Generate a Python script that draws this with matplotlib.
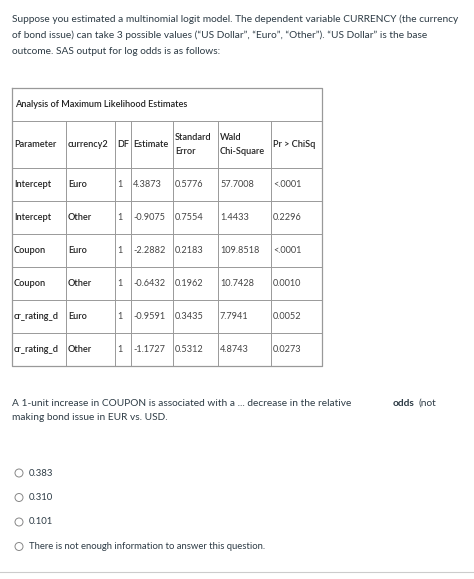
import matplotlib.pyplot as plt

intro = ["Suppose you estimated a multinomial logit model. The dependent variable CURRENCY (the currency",
         "of bond issue) can take 3 possible values (\u201cUS Dollar\u201d, \u201cEuro\u201d, \u201cOther\u201d). \u201cUS Dollar\u201d is the base",
         "outcome. SAS output for log odds is as follows:"]
table_title = "Analysis of Maximum Likelihood Estimates"
headers = [["Parameter"], ["currency2"], ["DF"], ["Estimate"], ["Standard", "Error"], ["Wald", "Chi-Square"], ["Pr > ChiSq"]]
params = ["Intercept", "Intercept", "Coupon", "Coupon", "cr_rating_d", "cr_rating_d"]
currency = ["Euro", "Other", "Euro", "Other", "Euro", "Other"]
df = ["1"] * 6
estimate = ["4.3873", "-0.9075", "-2.2882", "-0.6432", "-0.9591", "-1.1727"]
std_err = ["0.5776", "0.7554", "0.2183", "0.1962", "0.3435", "0.5312"]
wald = ["57.7008", "1.4433", "109.8518", "10.7428", "7.7941", "4.8743"]
pvalue = ["<.0001", "0.2296", "<.0001", "0.0010", "0.0052", "0.0273"]
question = ["A 1-unit increase in COUPON is associated with a ... decrease in the relative ",
            "making bond issue in EUR vs. USD."]
options = ["0.383", "0.310", "0.101", "There is not enough information to answer this question."]

W, H = 474, 579
fig = plt.figure(figsize=(W / 100, H / 100), dpi=100)
ax = fig.add_axes([0, 0, 1, 1])
ax.set_xlim(0, W)
ax.set_ylim(H, 0)
ax.axis("off")
plt.rcParams['font.family'] = ['Lato', 'DejaVu Sans']
col = "#2d3b45"
fs = 7.3

for i, line in enumerate(intro):
    ax.text(12, 19 + i * 16, line, fontsize=fs, color=col, va="center")

# table
xs = [12, 66, 115, 131, 173, 218, 271, 322]
ys = [88, 121, 168, 201, 234, 267, 300, 333, 366]
lc = "#999999"
ax.plot([xs[0], xs[-1], xs[-1], xs[0], xs[0]], [ys[0], ys[0], ys[-1], ys[-1], ys[0]], color=lc, lw=0.9)
for y in ys[1:-1]:
    ax.plot([xs[0], xs[-1]], [y, y], color=lc, lw=0.7)
for x in xs[1:-1]:
    ax.plot([x, x], [ys[1], ys[-1]], color=lc, lw=0.7)
tfs = 6.6
ax.text(15, (ys[0] + ys[1]) / 2, table_title, fontsize=tfs, color="#222222", va="center", fontweight="semibold")
for j, h in enumerate(headers):
    yc = (ys[1] + ys[2]) / 2
    if len(h) == 1:
        ax.text(xs[j] + 2, yc, h[0], fontsize=tfs, color="#222222", va="center", fontweight="semibold")
    else:
        ax.text(xs[j] + 2, yc - 7, h[0], fontsize=tfs, color="#222222", va="center", fontweight="semibold")
        ax.text(xs[j] + 2, yc + 7, h[1], fontsize=tfs, color="#222222", va="center", fontweight="semibold")
cols = [params, currency, df, estimate, std_err, wald, pvalue]
for r in range(6):
    yc = (ys[r + 2] + ys[r + 3]) / 2
    for j, c in enumerate(cols):
        ax.text(xs[j] + 2, yc, c[r], fontsize=tfs, va="center",
                color="#222222" if j < 2 else "#444444",
                fontweight="semibold" if j < 2 else "normal")

# question
t = ax.text(12, 403, question[0], fontsize=fs, color=col, va="center")
ax.text(393, 403, "odds", fontsize=fs, color=col, va="center", fontweight="bold")
ax.text(419, 403, "(not", fontsize=fs, color=col, va="center")
ax.text(12, 403, "", fontsize=fs)
ax.text(12, 418, question[1], fontsize=fs, color=col, va="center")
ax.text(385, 403, "", fontsize=fs)
for i, opt in enumerate(options):
    y = 473 + i * 24.5
    ax.add_patch(plt.Circle((19, y), 4, fill=False, ec="#888888", lw=0.7))
    ax.text(29, y, opt, fontsize=6.8, color=col, va="center")
ax.plot([0, W], [572, 572], color="#cccccc", lw=0.8)
fig.savefig("out.png", dpi=100)
